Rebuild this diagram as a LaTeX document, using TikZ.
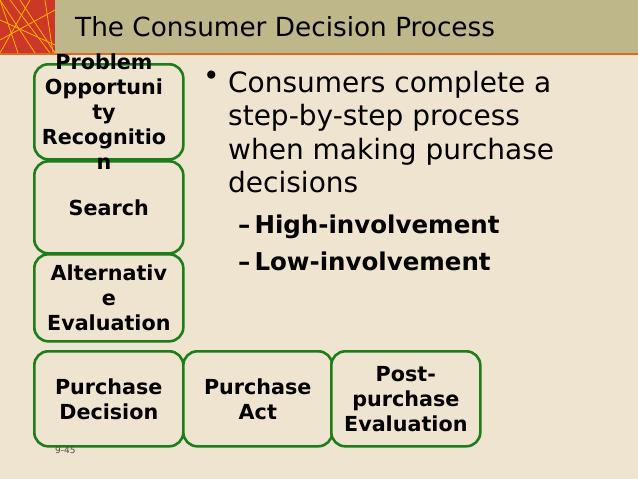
\documentclass[tikz,border=0pt]{standalone}
\usepackage{fontspec}
\setmainfont{DejaVu Sans}
\usetikzlibrary{positioning}
\definecolor{slidebg}{RGB}{239,228,207}
\definecolor{titlebar}{RGB}{190,183,138}
\definecolor{titlered}{RGB}{205,55,40}
\definecolor{rule}{RGB}{215,110,40}
\definecolor{stepgreen}{RGB}{30,125,25}
\tikzset{
  stepbox/.style={draw=stepgreen,line width=2.6pt,rounded corners=14pt,fill=slidebg,
    minimum width=149pt,inner sep=0pt},
  steptext/.style={font=\fontsize{20.7}{25}\selectfont\bfseries,align=center,text=black},
  bodytext/.style={font=\fontsize{28}{33.5}\selectfont,align=left,anchor=north west,inner sep=0pt}
}
\begin{document}
\begin{tikzpicture}[x=1pt,y=-1pt]
  \useasboundingbox (0,0) rectangle (638,479);
  % background and title bar
  \fill[slidebg] (0,0) rectangle (638,479);
  \fill[titlebar] (55,0) rectangle (638,53);
  \fill[titlered] (0,0) rectangle (55,53);
  \foreach \a/\b in {0/35,10/50,0/18,20/55,30/0,45/53}{
    \draw[orange!60!yellow,line width=0.8pt] (\a,0) -- (\b,53);
  }
  \draw[orange!60!yellow,line width=0.8pt] (0,20) -- (55,45) (0,40) -- (55,10);
  \draw[rule,line width=2pt] (0,54) -- (638,54);
  \node[anchor=west,font=\fontsize{26.3}{30}\selectfont,inner sep=0pt] (title) at (75,27) {The Consumer Decision Process};
  % left column of steps
  \node[stepbox,minimum height=95pt,anchor=north west] (recog) at (33,63) {};
  \node[stepbox,minimum height=92pt,anchor=north west] (search) at (33,160) {};
  \node[stepbox,minimum height=87pt,anchor=north west] (alter) at (33,253) {};
  % bottom row of steps
  \node[stepbox,minimum height=95pt,anchor=north west] (decide) at (33,350) {};
  \node[stepbox,minimum height=95pt,anchor=north west] (act) at (182,350) {};
  \node[stepbox,minimum height=95pt,anchor=north west] (post) at (330,350) {};
  % step labels
  \node[steptext] (recogtxt) at (104,112) {Problem\\Opportuni\\ty\\Recognitio\\n};
  \node[steptext] at (search) {Search};
  \node[steptext] at (alter) {Alternativ\\e\\Evaluation};
  \node[steptext] at (decide) {Purchase\\Decision};
  \node[steptext] at (act) {Purchase\\Act};
  \node[steptext] at (post) {Post-\\purchase\\Evaluation};
  \node[font=\fontsize{9}{10}\selectfont,text=black!70,anchor=west,inner sep=0pt] (page) at (55,450) {9-45};
  % bullet text
  \node[bodytext] (bullet) at (203,71) {•};
  \node[bodytext] (body) at (228,71) {Consumers complete a\\step-by-step process\\when making purchase\\decisions};
  \node[bodytext,font=\fontsize{24.5}{37}\selectfont\bfseries] (subs) at (238,215) {–\,High-involvement\\–\,Low-involvement};
\end{tikzpicture}
\end{document}
